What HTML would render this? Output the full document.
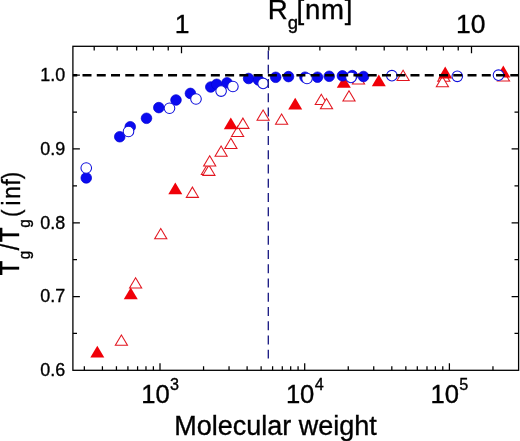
<!DOCTYPE html>
<html><head><meta charset="utf-8"><title>Tg vs Molecular weight</title>
<style>html,body{margin:0;padding:0;background:#fff;}body{width:520px;height:441px;position:relative;overflow:hidden;font-family:"Liberation Sans",sans-serif;}</style>
</head><body>
<svg width="520" height="441" viewBox="0 0 520 441" style="display:block;position:absolute;left:0;top:0">
<rect width="520" height="441" fill="#fff"/>
<g id="ot">
<polygon points="121.40,334.00 114.40,345.80 128.40,345.80" fill="#e2141e"/><polygon points="121.40,336.06 116.24,344.75 126.56,344.75" fill="#fff"/>
<polygon points="135.60,276.80 128.60,288.60 142.60,288.60" fill="#e2141e"/><polygon points="135.60,278.86 130.44,287.55 140.76,287.55" fill="#fff"/>
<polygon points="160.75,227.55 153.75,239.35 167.75,239.35" fill="#e2141e"/><polygon points="160.75,229.61 155.59,238.30 165.91,238.30" fill="#fff"/>
<polygon points="192.40,186.10 185.40,197.90 199.40,197.90" fill="#e2141e"/><polygon points="192.40,188.16 187.24,196.85 197.56,196.85" fill="#fff"/>
<polygon points="207.40,163.30 200.40,175.10 214.40,175.10" fill="#e2141e"/><polygon points="207.40,165.36 202.24,174.05 212.56,174.05" fill="#fff"/>
<polygon points="208.90,164.10 201.90,175.90 215.90,175.90" fill="#e2141e"/><polygon points="208.90,166.16 203.74,174.85 214.06,174.85" fill="#fff"/>
<polygon points="209.70,154.80 202.70,166.60 216.70,166.60" fill="#e2141e"/><polygon points="209.70,156.86 204.54,165.55 214.86,165.55" fill="#fff"/>
<polygon points="221.10,144.90 214.10,156.70 228.10,156.70" fill="#e2141e"/><polygon points="221.10,146.96 215.94,155.65 226.26,155.65" fill="#fff"/>
<polygon points="230.90,137.30 223.90,149.10 237.90,149.10" fill="#e2141e"/><polygon points="230.90,139.36 225.74,148.05 236.06,148.05" fill="#fff"/>
<polygon points="237.60,125.20 230.60,137.00 244.60,137.00" fill="#e2141e"/><polygon points="237.60,127.26 232.44,135.95 242.76,135.95" fill="#fff"/>
<polygon points="242.90,117.10 235.90,128.90 249.90,128.90" fill="#e2141e"/><polygon points="242.90,119.16 237.74,127.85 248.06,127.85" fill="#fff"/>
<polygon points="263.10,108.90 256.10,120.70 270.10,120.70" fill="#e2141e"/><polygon points="263.10,110.96 257.94,119.65 268.26,119.65" fill="#fff"/>
<polygon points="281.60,112.90 274.60,124.70 288.60,124.70" fill="#e2141e"/><polygon points="281.60,114.96 276.44,123.65 286.76,123.65" fill="#fff"/>
<polygon points="349.00,89.70 342.00,101.50 356.00,101.50" fill="#e2141e"/><polygon points="349.00,91.76 343.84,100.45 354.16,100.45" fill="#fff"/>
<polygon points="321.30,93.20 314.30,105.00 328.30,105.00" fill="#e2141e"/><polygon points="321.30,95.26 316.14,103.95 326.46,103.95" fill="#fff"/>
<polygon points="326.50,97.40 319.50,109.20 333.50,109.20" fill="#e2141e"/><polygon points="326.50,99.46 321.34,108.15 331.66,108.15" fill="#fff"/>
<polygon points="358.50,72.70 351.50,84.50 365.50,84.50" fill="#e2141e"/><polygon points="358.50,74.76 353.34,83.45 363.66,83.45" fill="#fff"/>
<polygon points="403.10,69.30 396.10,81.10 410.10,81.10" fill="#e2141e"/><polygon points="403.10,71.36 397.94,80.05 408.26,80.05" fill="#fff"/>
<polygon points="443.80,70.00 436.80,81.80 450.80,81.80" fill="#e2141e"/><polygon points="443.80,72.06 438.64,80.75 448.96,80.75" fill="#fff"/>
<polygon points="442.40,75.50 435.40,87.30 449.40,87.30" fill="#e2141e"/><polygon points="442.40,77.56 437.24,86.25 447.56,86.25" fill="#fff"/>
<polygon points="503.50,69.80 496.50,81.60 510.50,81.60" fill="#e2141e"/><polygon points="503.50,71.86 498.34,80.55 508.66,80.55" fill="#fff"/>
</g><g id="ft">
<polygon points="97.30,345.70 90.30,357.50 104.30,357.50" fill="#f00008"/>
<polygon points="130.75,287.55 123.75,299.35 137.75,299.35" fill="#f00008"/>
<polygon points="175.30,182.55 168.30,194.35 182.30,194.35" fill="#f00008"/>
<polygon points="230.80,117.50 223.80,129.30 237.80,129.30" fill="#f00008"/>
<polygon points="295.20,97.80 288.20,109.60 302.20,109.60" fill="#f00008"/>
<polygon points="343.80,75.90 336.80,87.70 350.80,87.70" fill="#f00008"/>
<polygon points="378.80,74.40 371.80,86.20 385.80,86.20" fill="#f00008"/>
<polygon points="445.20,66.60 438.20,78.40 452.20,78.40" fill="#f00008"/>
<polygon points="503.30,65.60 496.30,77.40 510.30,77.40" fill="#f00008"/>
</g><g id="fc">
<circle cx="86.25" cy="177.90" r="5.3" fill="#0a0af0" stroke="#0000d2" stroke-width="0.7"/>
<circle cx="119.75" cy="136.75" r="5.3" fill="#0a0af0" stroke="#0000d2" stroke-width="0.7"/>
<circle cx="130.25" cy="126.75" r="5.3" fill="#0a0af0" stroke="#0000d2" stroke-width="0.7"/>
<circle cx="146.50" cy="118.30" r="5.3" fill="#0a0af0" stroke="#0000d2" stroke-width="0.7"/>
<circle cx="158.80" cy="107.60" r="5.3" fill="#0a0af0" stroke="#0000d2" stroke-width="0.7"/>
<circle cx="176.00" cy="100.00" r="5.3" fill="#0a0af0" stroke="#0000d2" stroke-width="0.7"/>
<circle cx="190.40" cy="93.40" r="5.3" fill="#0a0af0" stroke="#0000d2" stroke-width="0.7"/>
<circle cx="210.80" cy="87.00" r="5.3" fill="#0a0af0" stroke="#0000d2" stroke-width="0.7"/>
<circle cx="216.70" cy="84.30" r="5.3" fill="#0a0af0" stroke="#0000d2" stroke-width="0.7"/>
<circle cx="227.00" cy="82.80" r="5.3" fill="#0a0af0" stroke="#0000d2" stroke-width="0.7"/>
<circle cx="248.60" cy="78.50" r="5.3" fill="#0a0af0" stroke="#0000d2" stroke-width="0.7"/>
<circle cx="258.50" cy="80.00" r="5.3" fill="#0a0af0" stroke="#0000d2" stroke-width="0.7"/>
<circle cx="275.70" cy="77.30" r="5.3" fill="#0a0af0" stroke="#0000d2" stroke-width="0.7"/>
<circle cx="288.50" cy="76.60" r="5.3" fill="#0a0af0" stroke="#0000d2" stroke-width="0.7"/>
<circle cx="305.00" cy="77.20" r="5.3" fill="#0a0af0" stroke="#0000d2" stroke-width="0.7"/>
<circle cx="317.50" cy="77.20" r="5.3" fill="#0a0af0" stroke="#0000d2" stroke-width="0.7"/>
<circle cx="329.20" cy="76.30" r="5.3" fill="#0a0af0" stroke="#0000d2" stroke-width="0.7"/>
<circle cx="342.40" cy="75.80" r="5.3" fill="#0a0af0" stroke="#0000d2" stroke-width="0.7"/>
<circle cx="352.30" cy="75.60" r="5.3" fill="#0a0af0" stroke="#0000d2" stroke-width="0.7"/>
<circle cx="363.50" cy="76.50" r="5.3" fill="#0a0af0" stroke="#0000d2" stroke-width="0.7"/>
</g><g id="oc">
<circle cx="86.25" cy="168.00" r="5.3" fill="#fff" stroke="#1010dc" stroke-width="1.05"/>
<circle cx="128.50" cy="131.50" r="5.3" fill="#fff" stroke="#1010dc" stroke-width="1.05"/>
<circle cx="169.50" cy="108.25" r="5.3" fill="#fff" stroke="#1010dc" stroke-width="1.05"/>
<circle cx="196.00" cy="99.00" r="5.3" fill="#fff" stroke="#1010dc" stroke-width="1.05"/>
<circle cx="221.10" cy="91.10" r="5.3" fill="#fff" stroke="#1010dc" stroke-width="1.05"/>
<circle cx="232.90" cy="86.50" r="5.3" fill="#fff" stroke="#1010dc" stroke-width="1.05"/>
<circle cx="263.10" cy="83.40" r="5.3" fill="#fff" stroke="#1010dc" stroke-width="1.05"/>
<circle cx="307.00" cy="78.50" r="5.3" fill="#fff" stroke="#1010dc" stroke-width="1.05"/>
<circle cx="351.00" cy="77.40" r="5.3" fill="#fff" stroke="#1010dc" stroke-width="1.05"/>
<circle cx="391.90" cy="75.70" r="5.3" fill="#fff" stroke="#1010dc" stroke-width="1.05"/>
<circle cx="457.30" cy="76.30" r="5.3" fill="#fff" stroke="#1010dc" stroke-width="1.05"/>
<circle cx="498.50" cy="75.20" r="5.3" fill="#fff" stroke="#1010dc" stroke-width="1.05"/>
</g>
<line x1="268.3" y1="46.3" x2="268.3" y2="358.6" stroke="#161680" stroke-width="1.3" stroke-dasharray="9.0 5.25" stroke-dashoffset="10.00"/>
<line x1="72.9" y1="75.15" x2="518.6" y2="75.15" stroke="#000" stroke-width="2.5" stroke-dasharray="9.0 5.26" stroke-dashoffset="4.66"/>
<rect x="72.9" y="46.3" width="445.70000000000005" height="324.0" fill="none" stroke="#000" stroke-width="1.3"/>
<path d="M84.34,370.3v-4.1 M102.42,370.3v-4.1 M116.44,370.3v-4.1 M127.90,370.3v-4.1 M137.59,370.3v-4.1 M145.98,370.3v-4.1 M153.38,370.3v-4.1 M160.00,370.3v-7.0 M203.56,370.3v-4.1 M229.04,370.3v-4.1 M247.12,370.3v-4.1 M261.14,370.3v-4.1 M272.60,370.3v-4.1 M282.29,370.3v-4.1 M290.68,370.3v-4.1 M298.08,370.3v-4.1 M304.70,370.3v-7.0 M348.26,370.3v-4.1 M373.74,370.3v-4.1 M391.82,370.3v-4.1 M405.84,370.3v-4.1 M417.30,370.3v-4.1 M426.99,370.3v-4.1 M435.38,370.3v-4.1 M442.78,370.3v-4.1 M449.40,370.3v-7.0 M492.96,370.3v-4.1 M94.20,46.3v4.1 M117.16,46.3v4.1 M136.58,46.3v4.1 M153.40,46.3v4.1 M168.23,46.3v4.1 M181.50,46.3v7.0 M268.80,46.3v4.1 M319.87,46.3v4.1 M356.10,46.3v4.1 M384.20,46.3v4.1 M407.16,46.3v4.1 M426.58,46.3v4.1 M443.40,46.3v4.1 M458.23,46.3v4.1 M471.50,46.3v7.0 M72.9,333.43h4.1 M518.6,333.43h-4.1 M72.9,296.54h7.0 M518.6,296.54h-7.0 M72.9,259.65h4.1 M518.6,259.65h-4.1 M72.9,222.76h7.0 M518.6,222.76h-7.0 M72.9,185.87h4.1 M518.6,185.87h-4.1 M72.9,148.98h7.0 M518.6,148.98h-7.0 M72.9,112.09h4.1 M518.6,112.09h-4.1 M72.9,75.20h7.0 M518.6,75.20h-7.0" stroke="#000" stroke-width="1.25" fill="none"/>
<text x="65.1" y="81.00" font-family="Liberation Sans, sans-serif" stroke="#000" stroke-width="0.35" font-size="17.9" text-anchor="end" fill="#000">1.0</text>
<text x="65.1" y="154.78" font-family="Liberation Sans, sans-serif" stroke="#000" stroke-width="0.35" font-size="17.9" text-anchor="end" fill="#000">0.9</text>
<text x="65.1" y="228.56" font-family="Liberation Sans, sans-serif" stroke="#000" stroke-width="0.35" font-size="17.9" text-anchor="end" fill="#000">0.8</text>
<text x="65.1" y="302.34" font-family="Liberation Sans, sans-serif" stroke="#000" stroke-width="0.35" font-size="17.9" text-anchor="end" fill="#000">0.7</text>
<text x="65.1" y="376.12" font-family="Liberation Sans, sans-serif" stroke="#000" stroke-width="0.35" font-size="17.9" text-anchor="end" fill="#000">0.6</text>
<text x="141.20" y="403.1" font-family="Liberation Sans, sans-serif" stroke="#000" stroke-width="0.35" font-size="25.6" fill="#000">10<tspan dy="-12.9" dx="0.3" font-size="16.2">3</tspan></text>
<text x="285.90" y="403.1" font-family="Liberation Sans, sans-serif" stroke="#000" stroke-width="0.35" font-size="25.6" fill="#000">10<tspan dy="-12.9" dx="0.3" font-size="16.2">4</tspan></text>
<text x="430.60" y="403.1" font-family="Liberation Sans, sans-serif" stroke="#000" stroke-width="0.35" font-size="25.6" fill="#000">10<tspan dy="-12.9" dx="0.3" font-size="16.2">5</tspan></text>
<text x="182" y="32.8" font-family="Liberation Sans, sans-serif" stroke="#000" stroke-width="0.35" font-size="26.5" text-anchor="middle" fill="#000">1</text>
<text x="470.8" y="32.8" font-family="Liberation Sans, sans-serif" stroke="#000" stroke-width="0.35" font-size="26.5" text-anchor="middle" fill="#000">10</text>
<text x="267.8" y="19.2" font-family="Liberation Sans, sans-serif" stroke="#000" stroke-width="0.35" font-size="27.6" fill="#000">R<tspan dy="9.6" font-size="18.5">g</tspan><tspan dy="-9.6" dx="-1.5" letter-spacing="0.75">[nm]</tspan></text>
<text x="174.2" y="435.3" font-family="Liberation Sans, sans-serif" stroke="#000" stroke-width="0.35" font-size="27" fill="#000">Molecular weight</text>
<text transform="translate(19.2,276.0) rotate(-90) scale(0.88,1)" font-family="Liberation Sans, sans-serif" stroke="#000" stroke-width="0.35" font-size="26" fill="#000"><tspan x="0.70" y="0" font-size="27.5">T</tspan><tspan x="18.99" y="10.4" font-size="17.2">g</tspan><tspan x="29.17" y="0" font-size="27.0">/</tspan><tspan x="38.37" y="0" font-size="27.5">T</tspan><tspan x="54.84" y="10.4" font-size="17.2">g</tspan><tspan x="67.19 80.15 87.92 102.89 109.84" y="1.2 0.5 0.5 0.5 1.2" font-size="25.5">(inf)</tspan></text>
</svg>
</body></html>
